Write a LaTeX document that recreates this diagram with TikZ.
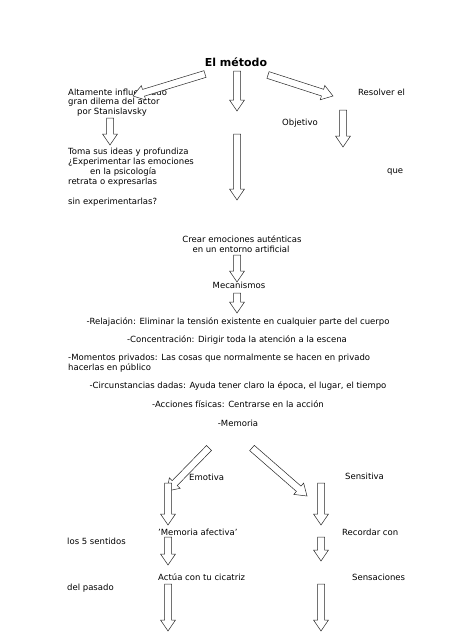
\documentclass[tikz,border=0pt]{standalone}
\usepackage{fontspec}
\setmainfont{DejaVu Sans}
\usetikzlibrary{calc}

\tikzset{
  txt/.style={inner sep=0pt, font=\fontsize{8.5}{10}\selectfont},
  hollow/.style={draw=black!85, line width=0.5pt, fill=white, line join=miter}
}
% hollow block arrow from #1 (tail) to #2 (tip)
\newcommand{\hollowarrow}[2]{%
  \draw[hollow] let \p1=($(#2)-(#1)$), \n1={atan2(\y1,\x1)}, \n2={veclen(\x1,\y1)-11} in
    ($(#1)+(\n1+90:3.5pt)$) -- ($(#1)+(\n1:{\n2*1pt})+(\n1+90:3.5pt)$)
    -- ($(#1)+(\n1:{\n2*1pt})+(\n1+90:7.5pt)$) -- (#2)
    -- ($(#1)+(\n1:{\n2*1pt})+(\n1-90:7.5pt)$) -- ($(#1)+(\n1:{\n2*1pt})+(\n1-90:3.5pt)$)
    -- ($(#1)+(\n1-90:3.5pt)$) -- cycle;}

\begin{document}
\begin{tikzpicture}[x=1pt,y=1pt]
\useasboundingbox (0,0) rectangle (474,-632);
% arrow ends
\coordinate (A1) at (205,-74);  \coordinate (A2) at (133,-96);
\coordinate (B1) at (237,-71);  \coordinate (B2) at (237,-111);
\coordinate (C1) at (268,-75);  \coordinate (C2) at (333,-96);
\coordinate (D1) at (110,-118); \coordinate (D2) at (110,-145);
\coordinate (E1) at (237,-134); \coordinate (E2) at (237,-200);
\coordinate (F1) at (343,-110); \coordinate (F2) at (343,-147);
\coordinate (G1) at (237,-255); \coordinate (G2) at (237,-282);
\coordinate (H1) at (237,-293); \coordinate (H2) at (237,-313);
\coordinate (I1) at (209,-448); \coordinate (I2) at (167,-491);
\coordinate (J1) at (252,-448); \coordinate (J2) at (307,-496);
\coordinate (K1) at (168,-483); \coordinate (K2) at (168,-525);
\coordinate (L1) at (321,-483); \coordinate (L2) at (321,-525);
\coordinate (M1) at (168,-537); \coordinate (M2) at (168,-565);
\coordinate (N1) at (321,-537); \coordinate (N2) at (321,-561);
\coordinate (P1) at (168,-584); \coordinate (P2) at (168,-631);
\coordinate (Q1) at (321,-584); \coordinate (Q2) at (321,-631);

\node[txt,font=\fontsize{11}{13}\selectfont\bfseries] (metodo) at (236,-62) {El método};

\node[txt,anchor=west] (alta) at (68,-92) {Altamente influenciado};
\node[txt,anchor=west] (dilema) at (68,-102) {gran dilema del actor};
\node[txt,anchor=west] (stan) at (77,-112) {por Stanislavsky};
\node[txt,anchor=west] (resolver) at (358,-92) {Resolver el};
\node[txt,anchor=west] (objetivo) at (282,-123) {Objetivo};
\node[txt,anchor=west] (toma) at (68,-152) {Toma sus ideas y profundiza};
\node[txt,anchor=west] (exper) at (68,-162) {¿Experimentar las emociones};
\node[txt,anchor=west] (psico) at (90,-172) {en la psicología};
\node[txt,anchor=west] (que) at (387,-172) {que};
\node[txt,anchor=west] (retrata) at (68,-182) {retrata o expresarlas};
\node[txt,anchor=west] (sinexp) at (68,-202) {sin experimentarlas?};

\node[txt] (crear) at (242,-239) {Crear emociones auténticas};
\node[txt] (entorno) at (241,-249) {en un entorno artificial};
\node[txt] (meca) at (239,-285) {Mecanismos};

\node[txt] (relaj) at (238,-322) {-Relajación: Eliminar la tensión existente en cualquier parte del cuerpo};
\node[txt] (concen) at (237,-340) {-Concentración: Dirigir toda la atención a la escena};
\node[txt,anchor=west] (momen) at (68,-358) {-Momentos privados: Las cosas que normalmente se hacen en privado};
\node[txt,anchor=west] (hacer) at (68,-368) {hacerlas en público};
\node[txt] (circun) at (238,-386) {-Circunstancias dadas: Ayuda tener claro la época, el lugar, el tiempo};
\node[txt] (acci) at (238,-404) {-Acciones físicas: Centrarse en la acción};
\node[txt] (memo) at (238,-423) {-Memoria};

\node[txt,anchor=west] (emotiva) at (189,-477) {Emotiva};
\node[txt,anchor=west] (sensitiva) at (345,-476) {Sensitiva};
\node[txt,anchor=west] (afect) at (158,-532) {'Memoria afectiva'};
\node[txt,anchor=west] (recordar) at (342,-532) {Recordar con};
\node[txt,anchor=west] (cinco) at (67,-541) {los 5 sentidos};
\node[txt,anchor=west] (cicatriz) at (158,-577) {Actúa con tu cicatriz};
\node[txt,anchor=west] (sensa) at (352,-577) {Sensaciones};
\node[txt,anchor=west] (pasado) at (67,-588) {del pasado};

\hollowarrow{A1}{A2}
\hollowarrow{B1}{B2}
\hollowarrow{C1}{C2}
\hollowarrow{D1}{D2}
\hollowarrow{E1}{E2}
\hollowarrow{F1}{F2}
\hollowarrow{G1}{G2}
\hollowarrow{H1}{H2}
\hollowarrow{I1}{I2}
\hollowarrow{J1}{J2}
\hollowarrow{K1}{K2}
\hollowarrow{L1}{L2}
\hollowarrow{M1}{M2}
\hollowarrow{N1}{N2}
\hollowarrow{P1}{P2}
\hollowarrow{Q1}{Q2}
\end{tikzpicture}
\end{document}
